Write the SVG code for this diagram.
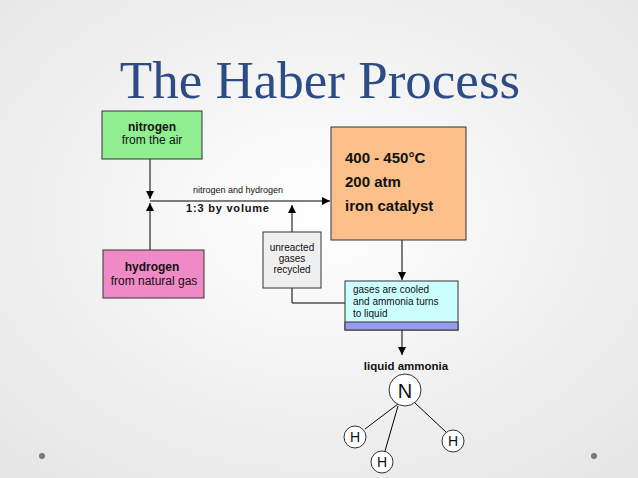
<svg xmlns="http://www.w3.org/2000/svg" width="638" height="478" viewBox="0 0 638 478">
<defs>
<radialGradient id="bg" cx="50%" cy="45%" r="70%"><stop offset="0" stop-color="#ffffff"/><stop offset="1" stop-color="#e6e6e6"/></radialGradient>
<marker id="ah" viewBox="0 0 10 10" refX="10" refY="5" markerWidth="8" markerHeight="8" markerUnits="userSpaceOnUse" orient="auto"><path d="M0,0 L10,5 L0,10 z" fill="#000"/></marker>
</defs>
<style>
.b{stroke:#333;stroke-width:1}
.t{font-family:"Liberation Sans",Arial,sans-serif;fill:#111}
.l{stroke:#000;stroke-width:1;fill:none}
</style>
<rect width="638" height="478" fill="url(#bg)"/>
<text x="320" y="98" text-anchor="middle" font-family="Liberation Serif,serif" font-size="53" fill="#2d4c85">The Haber Process</text>
<circle cx="42" cy="456" r="3" fill="#777"/><circle cx="594" cy="456" r="3" fill="#777"/>
<g id="connectors">
<path class="l" d="M150,159 V199" marker-end="url(#ah)"/>
<path class="l" d="M150,250 V203" marker-end="url(#ah)"/>
<path class="l" d="M150,201 H330" marker-end="url(#ah)"/>
<path class="l" d="M345,303 H292 V288"/>
<path class="l" d="M292,232 V205" marker-end="url(#ah)"/>
<path class="l" d="M402,240 V280" marker-end="url(#ah)"/>
<path class="l" d="M402,330 V355" marker-end="url(#ah)"/>
<path class="l" d="M398,404 L365,429 M398,406 L385,451 M415,403 L446,432"/>
</g>
<g id="nitrogen"><rect class="b" x="102" y="111" width="100" height="48" fill="#90ee90"/>
<text class="t" x="152" y="131" text-anchor="middle" font-size="12" font-weight="bold">nitrogen</text>
<text class="t" x="152" y="144" text-anchor="middle" font-size="12">from the air</text></g>
<g id="hydrogen"><rect class="b" x="103" y="250" width="101" height="48" fill="#f08ac6"/>
<text class="t" x="152" y="271" text-anchor="middle" font-size="12" font-weight="bold">hydrogen</text>
<text class="t" x="154" y="285" text-anchor="middle" font-size="12">from natural gas</text></g>
<g id="mix"><text class="t" x="238" y="193" text-anchor="middle" font-size="9">nitrogen and hydrogen</text>
<text class="t" x="186" y="212" font-size="11" font-weight="bold" letter-spacing="0.8">1:3 by volume</text></g>
<g id="reactor"><rect class="b" x="331" y="127" width="135" height="113" fill="#fbc08a"/>
<text class="t" x="345" y="163" font-size="15" font-weight="bold">400 - 450°C</text>
<text class="t" x="345" y="187" font-size="15" font-weight="bold">200 atm</text>
<text class="t" x="345" y="211" font-size="15" font-weight="bold">iron catalyst</text></g>
<g id="recycle"><rect class="b" x="263" y="232" width="58" height="56" fill="#efefef"/>
<text class="t" x="292" y="251" text-anchor="middle" font-size="10">unreacted</text>
<text class="t" x="292" y="262" text-anchor="middle" font-size="10">gases</text>
<text class="t" x="292" y="273" text-anchor="middle" font-size="10">recycled</text></g>
<g id="cooler"><rect class="b" x="345" y="281" width="113" height="49" fill="#ccffff"/>
<rect class="b" x="345" y="322" width="113" height="8" fill="#9999ee"/>
<text class="t" x="353" y="293" font-size="10">gases are cooled</text>
<text class="t" x="353" y="305" font-size="10">and ammonia turns</text>
<text class="t" x="353" y="317" font-size="10">to liquid</text></g>
<g id="ammonia"><text class="t" x="406" y="370" text-anchor="middle" font-size="11.5" font-weight="bold">liquid ammonia</text>
<circle class="b" cx="405" cy="390" r="16" fill="#fff"/>
<text class="t" x="405" y="398" text-anchor="middle" font-size="20">N</text>
<circle class="b" cx="355" cy="437" r="11" fill="#fff"/><text class="t" x="355" y="442" text-anchor="middle" font-size="14">H</text>
<circle class="b" cx="382" cy="462" r="11" fill="#fff"/><text class="t" x="382" y="467" text-anchor="middle" font-size="14">H</text>
<circle class="b" cx="453" cy="441" r="11" fill="#fff"/><text class="t" x="453" y="446" text-anchor="middle" font-size="14">H</text></g>
</svg>
